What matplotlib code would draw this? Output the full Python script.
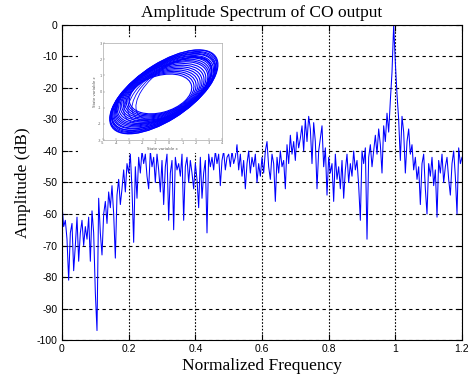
import numpy as np
import matplotlib
matplotlib.use("Agg")
import matplotlib.pyplot as plt
from matplotlib.patches import Ellipse, Rectangle

plt.rcParams['axes.unicode_minus'] = False

# amplitude spectrum, one value every 0.005 of normalized frequency (0 .. 1.2)
freq_step = 0.005
amp_db = [
    -57, -64, -62, -68, -81, -66, -63, -78, -70, -61,
    -75, -66, -62, -70, -64, -68, -61, -75, -59, -66,
    -85, -97, -55, -66, -73, -60, -56, -63, -53, -58,
    -51, -60, -74, -54, -49, -57, -52, -46, -53, -44,
    -47, -41, -52, -69, -45, -55, -42, -47, -40, -44,
    -41, -48, -52, -40, -45, -42, -50, -41, -46, -53,
    -43, -57, -45, -41, -62, -47, -43, -65, -42, -46,
    -44, -48, -41, -62, -45, -42, -50, -43, -47, -52,
    -44, -49, -58, -42, -55, -47, -43, -66, -41, -45,
    -42, -46, -40, -44, -41, -51, -43, -40, -46, -42,
    -41, -45, -40, -44, -42, -38, -46, -41, -48, -43,
    -52, -44, -40, -47, -42, -45, -41, -50, -44, -48,
    -42, -47, -40, -37, -45, -49, -41, -44, -56, -42,
    -47, -40, -45, -43, -52, -38, -44, -35, -41, -37,
    -43, -34, -39, -36, -32, -40, -30, -37, -29, -33,
    -44, -31, -37, -52, -40, -36, -32, -45, -39, -54,
    -42, -47, -44, -56, -41, -49, -45, -52, -43, -55,
    -46, -41, -50, -44, -48, -40, -46, -43, -51, -62,
    -40, -44, -39, -68, -42, -38, -45, -40, -35, -41,
    -33, -38, -47, -32, -37, -28, -34, -24, -15, 0,
    -12, -22, -30, -43, -29, -34, -47, -37, -33, -41,
    -38, -46, -42, -49, -45, -57, -44, -41, -52, -60,
    -44, -48, -42, -51, -46, -61, -43, -47, -41, -50,
    -45, -42, -49, -54, -44, -40, -48, -60, -39, -44,
    -42,
]
freq = np.arange(len(amp_db)) * freq_step

# inset: loops of the state-space attractor (center x, center z, width, height, angle)
loop_cx = [-0.65, -0.62, -0.60, -0.58, -0.56, -0.55, -0.53, -0.52, -0.50, -0.49,
           -0.48, -0.47, -0.46, -0.45, -0.44, -0.43, -0.42, -0.42, -0.41, -0.40]
loop_cz = [-0.15, -0.14, -0.13, -0.12, -0.11, -0.10, -0.09, -0.08, -0.07, -0.07,
           -0.06, -0.05, -0.05, -0.04, -0.04, -0.03, -0.03, -0.03, -0.02, -0.02]
loop_w = [4.8, 5.1, 5.4, 5.7, 6.0, 6.3, 6.6, 6.9, 7.2, 7.4,
          7.6, 7.8, 8.0, 8.2, 8.4, 8.5, 8.6, 8.8, 8.9, 9.0]
loop_h = [2.3, 2.4, 2.5, 2.6, 2.7, 2.8, 2.9, 3.0, 3.1, 3.15,
          3.2, 3.25, 3.3, 3.35, 3.4, 3.45, 3.5, 3.55, 3.6, 3.6]
loop_ang = [12, 13, 14, 15, 16, 17, 18, 19, 20, 21,
            22, 23, 24, 24, 25, 25, 26, 26, 27, 27]
# loops shifted to the right, making the fan on the upper right
fan_cx = [-0.1, 0.05, 0.2, 0.35]
fan_cz = [0.05, 0.1, 0.15, 0.2]
fan_w = [7.2, 6.9, 6.6, 6.3]
fan_h = [3.0, 2.95, 2.9, 2.85]
fan_ang = [25, 26, 27, 28]

fig = plt.figure(figsize=(4.74, 3.81), dpi=100)
ax = fig.add_axes([0.1308, 0.1076, 0.8439, 0.8268])
ax.plot(freq, amp_db, color='#0000ff', lw=0.75)
ax.set_xlim(0, 1.2)
ax.set_ylim(-100, 0)
ax.set_xticks(np.arange(0, 1.21, 0.2))
ax.set_xticklabels(['0', '0.2', '0.4', '0.6', '0.8', '1', '1.2'])
ax.set_yticks(np.arange(-100, 1, 10))
ax.tick_params(direction='in', top=True, right=True, length=4, width=0.8,
               labelsize=7.5, pad=3)
for lab in ax.get_xticklabels() + ax.get_yticklabels():
    lab.set_family('Liberation Sans')
ax.xaxis.grid(True, color='black', lw=0.8, linestyle=(0, (1.5, 1.5)))
ax.yaxis.grid(True, color='black', lw=0.8, linestyle=(0, (3, 3)))
ax.set_axisbelow(True)
for s in ax.spines.values():
    s.set_linewidth(0.8)

serif = 'Liberation Serif'
ax.set_title("Amplitude Spectrum of CO output", family=serif, fontsize=12.5, pad=6)
ax.set_xlabel("Normalized Frequency", family=serif, fontsize=12.5, labelpad=3)
ax.set_ylabel("Amplitude (dB)", family=serif, fontsize=12.5, labelpad=4)

# white panel behind the inset
fig.add_artist(Rectangle((0.1646, 0.5984), 0.3333, 0.302, transform=fig.transFigure,
                         facecolor='white', edgecolor='none', zorder=1))

ins = fig.add_axes([0.2173, 0.6325, 0.2511, 0.2546])
ins.set_zorder(2)
ins.set_xlim(-5, 4)
ins.set_ylim(-3, 3)
for cx, cz, w, h, a in zip(loop_cx, loop_cz, loop_w, loop_h, loop_ang):
    ins.add_patch(Ellipse((cx, cz), w, h, angle=a, fill=False, ec='#0000ff', lw=0.8))
for cx, cz, w, h, a in zip(fan_cx, fan_cz, fan_w, fan_h, fan_ang):
    ins.add_patch(Ellipse((cx, cz), w, h, angle=a, fill=False, ec='#0000ff', lw=0.6))
ins.set_xticks(np.arange(-5, 5, 1))
ins.set_yticks(np.arange(-3, 4, 1))
ins.tick_params(direction='in', length=1.5, width=0.3, labelsize=2.5, pad=1,
                colors='#666666')
ins.set_xlabel("State variable x", fontsize=2.8, labelpad=1, color='#555555')
ins.set_ylabel("State variable z", fontsize=2.8, labelpad=1, color='#555555')
for s in ins.spines.values():
    s.set_linewidth(0.5)
    s.set_color('#aaaaaa')

fig.savefig("out.png", dpi=100)
